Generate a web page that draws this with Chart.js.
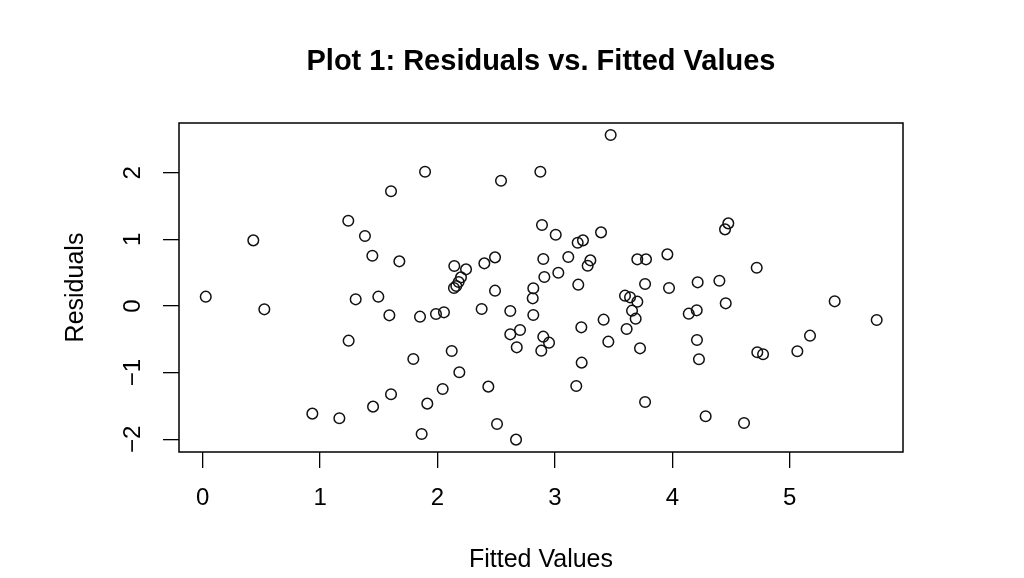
<!DOCTYPE html>
<html>
<head>
<meta charset="utf-8">
<script src="https://cdn.jsdelivr.net/npm/chart.js@4.4.1/dist/chart.umd.min.js"></script>
<style>
  html, body { margin: 0; padding: 0; background: #fff; }
  #wrap { width: 1024px; height: 578px; }
</style>
</head>
<body>
<div id="wrap"><canvas id="residualPlot" width="1024" height="578"></canvas></div>
<script>
// Fitted values (x) and residuals (y)
const fitted = [
  0.026, 0.431, 0.525, 0.934, 1.164, 1.240, 1.243, 1.303, 1.382, 1.445,
  1.451, 1.496, 1.590, 1.604, 1.604, 1.675, 1.794, 1.851, 1.865, 1.894,
  1.913, 1.987, 2.044, 2.055, 2.121, 2.143, 2.140, 2.160, 2.180, 2.200,
  2.186, 2.243, 2.376, 2.399, 2.433, 2.490, 2.490, 2.507, 2.541, 2.620,
  2.620, 2.669, 2.675, 2.703, 2.811, 2.816, 2.816, 2.876, 2.884, 2.890,
  2.901, 2.901, 2.910, 2.950, 3.007, 3.029, 3.114, 3.182, 3.194, 3.199,
  3.225, 3.228, 3.239, 3.279, 3.302, 3.393, 3.415, 3.455, 3.475, 3.597,
  3.611, 3.640, 3.657, 3.688, 3.702, 3.702, 3.725, 3.768, 3.768, 3.776,
  3.958, 3.972, 4.140, 4.208, 4.210, 4.216, 4.227, 4.284, 4.401, 4.449,
  4.455, 4.477, 4.611, 4.719, 4.724, 4.773, 5.065, 5.173, 5.383, 5.741
];
const residuals = [
  0.140, 0.985, -0.050, -1.615, -1.685, 1.280, -0.520, 0.100, 1.050, 0.755,
  -1.510, 0.140, -0.140, 1.721, -1.325, 0.670, -0.795, -0.160, -1.920, 2.015,
  -1.465, -0.120, -1.245, -0.095, -0.675, 0.600, 0.270, 0.300, 0.360, 0.430,
  -0.995, 0.550, -0.045, 0.640, -1.210, 0.730, 0.230, -1.770, 1.880, -0.075,
  -0.425, -2.005, -0.620, -0.360, 0.115, 0.265, -0.135, 2.015, -0.670, 1.215,
  0.705, -0.460, 0.435, -0.550, 1.070, 0.500, 0.735, -1.200, 0.950, 0.320,
  -0.320, -0.850, 0.985, 0.605, 0.685, 1.105, -0.205, -0.535, 2.566, 0.155,
  -0.345, 0.130, -0.070, -0.190, 0.065, 0.700, -0.635, 0.330, -1.440, 0.700,
  0.775, 0.270, -0.115, -0.065, -0.510, 0.355, -0.800, -1.655, 0.380, 1.150,
  0.040, 1.240, -1.755, 0.575, -0.695, -0.725, -0.680, -0.445, 0.070, -0.210
];
const xTicks = [0, 1, 2, 3, 4, 5];
const yTicks = [-2, -1, 0, 1, 2];
const titleText = 'Plot 1: Residuals vs. Fitted Values';
const xLabel = 'Fitted Values';
const yLabel = 'Residuals';

const FONT = "'Liberation Sans', Arial, Helvetica, sans-serif";

// R-style frame, title, axis titles and rotated y labels
const rDecor = {
  id: 'rDecor',
  afterDraw(chart) {
    const ctx = chart.ctx;
    const a = chart.chartArea;
    const ys = chart.scales.y;
    const cx = (a.left + a.right) / 2;
    const cy = (a.top + a.bottom) / 2;

    ctx.save();
    ctx.strokeStyle = '#000';
    ctx.lineWidth = 1.5;
    ctx.strokeRect(a.left, a.top, a.right - a.left, a.bottom - a.top);

    ctx.fillStyle = '#000';
    ctx.textAlign = 'center';
    ctx.textBaseline = 'alphabetic';

    ctx.font = 'bold 29px ' + FONT;
    ctx.fillText(titleText, cx, 69.5);

    ctx.font = '25px ' + FONT;
    ctx.fillText(xLabel, cx, 567);

    ctx.save();
    ctx.translate(83, cy);
    ctx.rotate(-Math.PI / 2);
    ctx.fillText(yLabel, 0, 0);
    ctx.restore();

    ctx.font = '24px ' + FONT;
    yTicks.forEach(v => {
      ctx.save();
      ctx.translate(139.5, ys.getPixelForValue(v));
      ctx.rotate(-Math.PI / 2);
      ctx.fillText(String(v).replace('-', '\u2212'), 0, 0);
      ctx.restore();
    });
    ctx.restore();
  }
};

const ctx = document.getElementById('residualPlot').getContext('2d');
new Chart(ctx, {
  type: 'scatter',
  data: {
    datasets: [{
      data: fitted.map((x, i) => ({ x: x, y: residuals[i] })),
      pointRadius: 5.3,
      pointHoverRadius: 5.3,
      pointBorderWidth: 1.5,
      pointBorderColor: '#111',
      pointBackgroundColor: 'rgba(0,0,0,0)',
      showLine: false
    }]
  },
  options: {
    responsive: false,
    animation: false,
    devicePixelRatio: 1,
    layout: { padding: { top: 123, right: 121, bottom: 0, left: 0 } },
    plugins: {
      legend: { display: false },
      title: { display: false },
      tooltip: { enabled: false }
    },
    scales: {
      x: {
        type: 'linear',
        min: -0.2019,
        max: 5.965,
        afterBuildTicks: s => { s.ticks = xTicks.map(v => ({ value: v })); },
        afterFit: s => { s.height = 126; },
        grid: { drawOnChartArea: false, drawTicks: true, tickLength: 16, color: '#000', lineWidth: 1.3 },
        border: { display: false },
        ticks: {
          color: '#000',
          font: { family: FONT, size: 24 },
          padding: 16,
          maxRotation: 0,
          autoSkip: false
        }
      },
      y: {
        type: 'linear',
        min: -2.1905,
        max: 2.7457,
        afterBuildTicks: s => { s.ticks = yTicks.map(v => ({ value: v })); },
        afterFit: s => { s.width = 179; },
        grid: { drawOnChartArea: false, drawTicks: true, tickLength: 16, color: '#000', lineWidth: 1.3 },
        border: { display: false },
        ticks: { display: false }
      }
    }
  },
  plugins: [rDecor]
});
</script>
</body>
</html>
